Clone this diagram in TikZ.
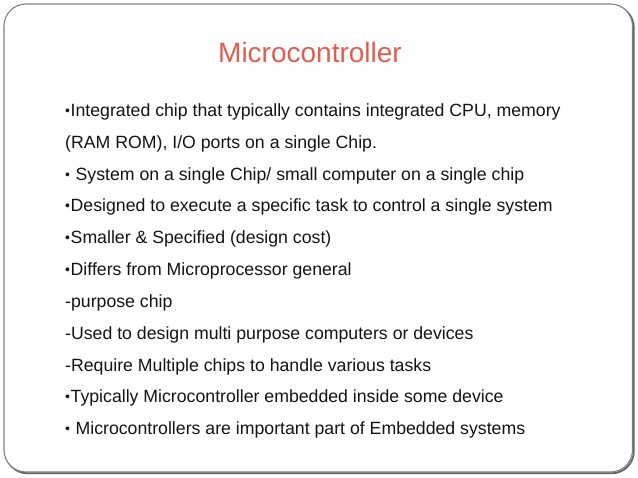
\documentclass[tikz,border=0pt]{standalone}
\usepackage{fontspec}
\setmainfont{Liberation Sans}
\definecolor{titlecol}{RGB}{222,94,80}
\definecolor{framecol}{RGB}{128,128,128}
\definecolor{shadowcol}{RGB}{100,100,100}
\definecolor{textcol}{RGB}{20,20,20}
\newcommand\bul{\makebox[5.5pt][l]{\raisebox{1.3pt}{\fontsize{14}{14}\selectfont •}}}
\begin{document}
\begin{tikzpicture}[x=1pt,y=-1pt,
  body/.style={anchor=base west,inner sep=0pt,text=textcol,font=\fontsize{17.7}{20}\selectfont},
  titletext/.style={anchor=base,inner sep=0pt,text=titlecol,font=\fontsize{28}{32}\selectfont}]
\useasboundingbox (0,0) rectangle (638,478);
\fill[white] (0,0) rectangle (638,478);
\draw[shadowcol,line width=1.8pt,rounded corners=22pt] (5.5,5.5) rectangle (633.8,473.3);
\draw[framecol,line width=1.1pt,rounded corners=22pt,fill=white] (4,4) rectangle (632.5,472);
\node[titletext] (title) at (310,63) {Microcontroller};
\node[body] (l1) at (65,117) {\bul Integrated chip that typically contains integrated CPU, memory};
\node[body] (l2) at (65,149) {(RAM ROM), I/O ports on a single Chip.};
\node[body] (l3) at (65,181) {\bul\ System on a single Chip/ small computer on a single chip};
\node[body] (l4) at (65,212) {\bul Designed to execute a specific task to control a single system};
\node[body] (l5) at (65,244) {\bul Smaller \& Specified (design cost)};
\node[body] (l6) at (65,276) {\bul Differs from Microprocessor general};
\node[body] (l7) at (65,308) {-purpose chip};
\node[body] (l8) at (65,340) {-Used to design multi purpose computers or devices};
\node[body] (l9) at (65,372) {-Require Multiple chips to handle various tasks};
\node[body] (l10) at (65,403) {\bul Typically Microcontroller embedded inside some device};
\node[body] (l11) at (65,435) {\bul\ Microcontrollers are important part of Embedded systems};
\end{tikzpicture}
\end{document}
